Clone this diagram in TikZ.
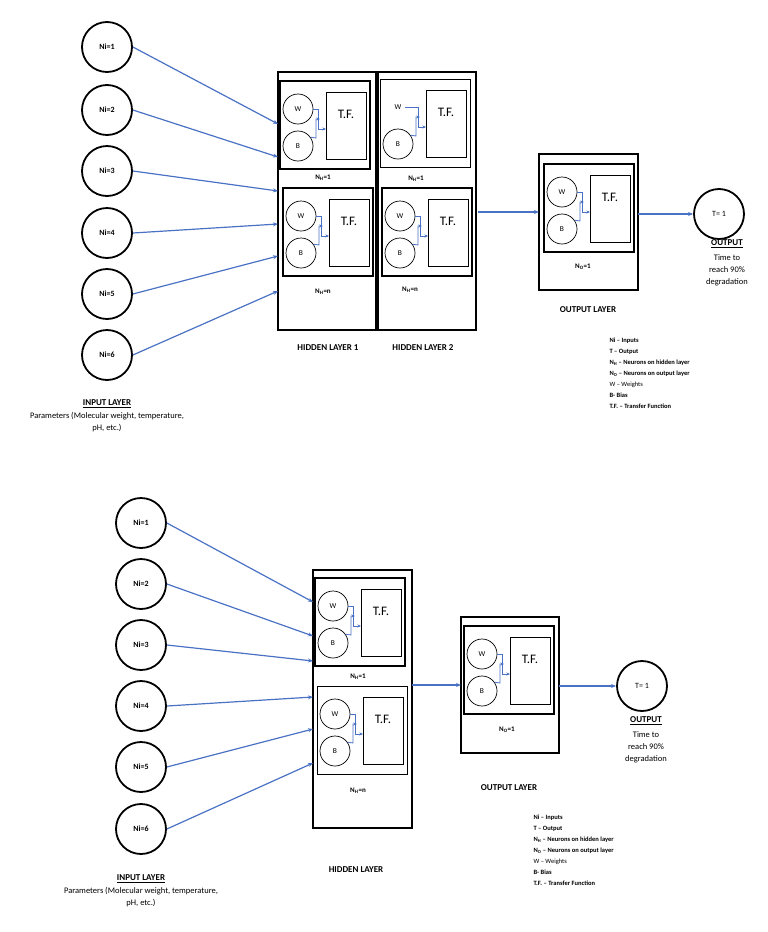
\documentclass[tikz,border=0pt]{standalone}
\usepackage{fontspec}
\setmainfont{Carlito}
\usetikzlibrary{arrows.meta}

\definecolor{linkblue}{rgb}{0.290000, 0.447000, 0.769000}

\tikzset{
  inp/.style={circle, draw, line width=1.8pt, minimum size=50pt, inner sep=0pt, font=\fontsize{8}{9}\selectfont\bfseries},
  small/.style={circle, draw, line width=0.7pt, minimum size=30pt, inner sep=0pt, font=\fontsize{7.5}{8}\selectfont},
  link/.style={draw=linkblue, line width=1.2pt, -{Stealth[length=5pt,width=4pt]}},
  wire/.style={draw=linkblue, line width=0.8pt, -{Stealth[length=3.5pt,width=3pt]}},
  lbl/.style={font=\fontsize{7}{8}\selectfont\bfseries},
  head/.style={font=\fontsize{9}{10}\selectfont\bfseries},
  note/.style={align=center, font=\fontsize{8.5}{12}\selectfont},
  leg/.style={anchor=west, align=left, font=\fontsize{6.5}{11}\selectfont\bfseries},
}

% neuron: #1 box width, #2 name, #3 x, #4 y, #5 W circle or not
\newcommand{\neuron}[5]{%
  \draw[line width=#1] (#3,#4) rectangle ++(90,88);
  \node[#5] (#2w) at (#3+18,#4+28) {W};
  \node[small] (#2b) at (#3+18,#4+65) {B};
  \node[draw, line width=0.7pt, minimum width=40pt, minimum height=67pt, inner sep=0pt] (#2tf) at (#3+66,#4+45) {};
  \node[font=\fontsize{13}{14}\selectfont] at (#3+66,#4+33) {T.F.};
  \coordinate (#2in) at (#3+46,#4+48);
  \coordinate (#2mid) at (#3+40,#4+38);
  \draw[wire] (#2w.east) -- (#3+38,#4+28) -- (#3+38,#4+48) -- (#2in);
  \draw[wire] (#2b.35) -- (#3+36,#4+57) -- (#3+36,#4+38) -- (#2mid);
}

\begin{document}
\begin{tikzpicture}[x=1pt,y=-1pt]
\useasboundingbox (0,0) rectangle (768,932);

% ---- top network ----
\foreach \i/\y in {1/47,2/110,3/171,4/233,5/294,6/355}
  \node[inp] (in\i) at (107,\y) {Ni=\i};
\node[head] (inhead) at (107,404) {\underline{INPUT LAYER}};
\node[note] (intext) at (107,422) {Parameters (Molecular weight, temperature,\\pH, etc.)};

\draw[line width=1.8pt] (278,72) rectangle (376,330);
\draw[line width=1.8pt] (378,72) rectangle (476,330);
\foreach \i/\y in {1/124,2/157,3/191,4/224,5/256,6/291}{
  \coordinate (ha\i) at (278,\y);
  \draw[link] (in\i.east) -- (ha\i);
}

\neuron{1.6pt}{ha}{280}{81}{small}
\node[lbl] at (323,178) {N\textsubscript{H}=1};
\neuron{1.6pt}{hb}{283}{188}{small}
\node[lbl] at (323,292) {N\textsubscript{H}=n};
\neuron{0.7pt}{hc}{380}{79}{font=\fontsize{7.5}{8}\selectfont}
\node[lbl] at (416,179) {N\textsubscript{H}=1};
\neuron{1.6pt}{hd}{382}{188}{small}
\node[lbl] at (410,290) {N\textsubscript{H}=n};
\node[head] at (328,348) {HIDDEN LAYER 1};
\node[head] at (423,348) {HIDDEN LAYER 2};

\draw[line width=1.8pt] (539,154) rectangle (638,290);
\coordinate (hout) at (478,212);
\coordinate (oin) at (539,212);
\draw[link] (hout) -- (oin);
\neuron{1.3pt}{oa}{544}{164}{small}
\node[lbl] at (583,267) {N\textsubscript{O}=1};
\node[head] at (588,310) {OUTPUT LAYER};

\node[inp, font=\fontsize{8}{9}\selectfont] (outT) at (719,214) {T= 1};
\coordinate (oout) at (638,214);
\draw[link] (oout) -- (outT.west);
\node[head] at (727,244) {\underline{OUTPUT}};
\node[note] at (727,270) {Time to\\reach 90\%\\degradation};

\node[leg] at (606,373) {Ni -- Inputs\\T -- Output\\N\textsubscript{H} -- Neurons on hidden layer\\N\textsubscript{O} -- Neurons on output layer\\{\mdseries W -- Weights}\\B- Bias\\T.F. -- Transfer Function};

% ---- bottom network ----
\foreach \i/\y in {1/523,2/584,3/645,4/706,5/767,6/829}
  \node[inp] (bin\i) at (141,\y) {Ni=\i};
\node[head] (binhead) at (141,879) {\underline{INPUT LAYER}};
\node[note] (bintext) at (141,897) {Parameters (Molecular weight, temperature,\\pH, etc.)};

\draw[line width=1.8pt] (313,570) rectangle (412,828);
\foreach \i/\y in {1/602,2/636,3/661,4/697,5/729,6/763}{
  \coordinate (hb\i) at (313,\y);
  \draw[link] (bin\i.east) -- (hb\i);
}
\neuron{1.6pt}{ba}{315}{578}{small}
\node[lbl] at (358,677) {N\textsubscript{H}=1};
\neuron{0.7pt}{bb}{317}{686}{small}
\node[lbl] at (358,791) {N\textsubscript{H}=n};
\node[head] at (356,870) {HIDDEN LAYER};

\draw[line width=1.8pt] (461,617) rectangle (559,753);
\coordinate (bhout) at (412,685);
\coordinate (boin) at (461,685);
\draw[link] (bhout) -- (boin);
\neuron{1.3pt}{bo}{464}{626}{small}
\node[lbl] at (507,730) {N\textsubscript{O}=1};
\node[head] at (509,788) {OUTPUT LAYER};

\node[inp, font=\fontsize{8}{9}\selectfont] (boutT) at (642,686) {T= 1};
\coordinate (boout) at (559,686);
\draw[link] (boout) -- (boutT.west);
\node[head] at (646,721) {\underline{OUTPUT}};
\node[note] at (646,747) {Time to\\reach 90\%\\degradation};

\node[leg] at (530,850) {Ni -- Inputs\\T -- Output\\N\textsubscript{H} -- Neurons on hidden layer\\N\textsubscript{O} -- Neurons on output layer\\{\mdseries W -- Weights}\\B- Bias\\T.F. -- Transfer Function};
\end{tikzpicture}
\end{document}
